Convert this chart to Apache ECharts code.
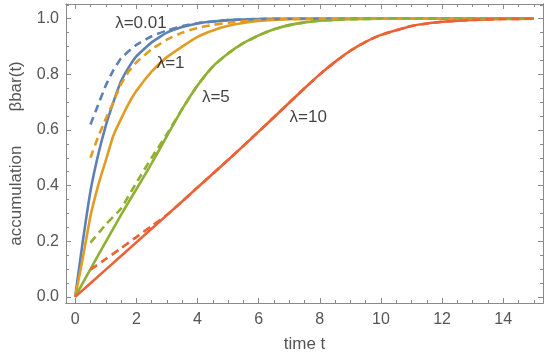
<!DOCTYPE html>
<html>
<head>
<meta charset="utf-8">
<script src="https://cdn.jsdelivr.net/npm/echarts@6/dist/echarts.min.js"></script>
<style>html,body{margin:0;padding:0;background:#fff}#c{width:550px;height:360px}</style>
</head>
<body>
<div id="c"></div>
<script>
// ---- data ----
const tBlueSolid = [0,0.25,0.5,0.75,1,1.25,1.5,1.75,2,2.5,3,3.5,4,4.5,5,6,7,8,10,12,15];
const yBlueSolid = [0,0.2,0.38,0.51,0.615,0.70,0.775,0.825,0.865,0.915,0.95,0.97,0.983,0.99,0.995,0.999,1,1,1,1,1];

const tOrangeSolid = [0,0.25,0.5,0.75,1,1.25,1.5,1.75,2,2.5,3,3.5,4,4.5,5,5.5,6,7,8,10,12,15];
const yOrangeSolid = [0,0.14,0.29,0.40,0.49,0.58,0.64,0.695,0.74,0.81,0.862,0.90,0.935,0.958,0.975,0.985,0.992,0.998,1,1,1,1];

const tGreenSolid = [0,0.5,1,1.5,2,2.5,3,3.5,4,4.5,5,5.5,6,6.5,7,7.5,8,9,10,12,15];
const yGreenSolid = [0,0.1,0.198,0.295,0.387,0.48,0.578,0.675,0.76,0.828,0.875,0.912,0.94,0.962,0.977,0.987,0.993,0.998,1,1,1];

const tRedSolid = [0,1,2,3,4,5,6,6.5,7,7.5,8,8.5,9,9.5,10,11,12,13,14,15];
const yRedSolid = [0,0.098,0.196,0.294,0.393,0.492,0.594,0.646,0.698,0.75,0.80,0.845,0.885,0.917,0.942,0.974,0.989,0.996,0.999,1];

const tBlueDash = [0.5,0.75,1,1.25,1.5,2,2.5,3,3.5,4,5,6,7,8,10,12,15];
const yBlueDash = [0.62,0.69,0.76,0.815,0.858,0.906,0.937,0.958,0.973,0.984,0.995,0.999,1,1,1,1,1];

const tOrangeDash = [0.5,0.75,1,1.25,1.5,1.75,2,2.5,3,3.5,4,4.5,5,6,7,8,10,12,15];
const yOrangeDash = [0.5,0.575,0.64,0.70,0.765,0.81,0.843,0.89,0.925,0.95,0.967,0.978,0.986,0.995,0.999,1,1,1,1];

const tGreenDash = [0.5,1,1.5,2,2.5,3,3.5,4,4.5,5,5.5,6,6.5,7,7.5,8,9,10,12,15];
const yGreenDash = [0.195,0.26,0.318,0.41,0.50,0.585,0.676,0.76,0.828,0.875,0.912,0.94,0.962,0.977,0.987,0.993,0.998,1,1,1];

const tRedDash = [0.5,1,1.5,2,2.5,3,3.5,4,5,6,6.5,7,7.5,8,8.5,9,9.5,10,11,12,13,14,15];
const yRedDash = [0.098,0.136,0.175,0.215,0.255,0.295,0.343,0.393,0.492,0.594,0.646,0.698,0.75,0.80,0.845,0.885,0.917,0.942,0.974,0.989,0.996,0.999,1];

const seriesNames = ['λ=0.01','λ=1','λ=5','λ=10'];
const labelT = [2.15, 3.12, 4.6, 7.62];
const labelY = [0.982, 0.841, 0.716, 0.644];

const xMajorTicks = [0,2,4,6,8,10,12,14];
const xMinorTicks = [0.5,1,1.5,2.5,3,3.5,4.5,5,5.5,6.5,7,7.5,8.5,9,9.5,10.5,11,11.5,12.5,13,13.5,14.5,15];
const yMajorTicks = [0,0.2,0.4,0.6,0.8,1.0];
const yMinorTicks = [0.05,0.1,0.15,0.25,0.3,0.35,0.45,0.5,0.55,0.65,0.7,0.75,0.85,0.9,0.95,1.05];

const xTitle = 'time t';
const yTitle = 'accumulation\u2003\u2003βbar(t)';

// ---- styles ----
const colors = ['#5E81B5','#E19C24','#8FB032','#EB6235'];
const axisColor = '#8a8a8a';
const labelColor = '#555';
const FONT = '"Liberation Sans", Arial, sans-serif';
const X_MIN = -0.3, X_MAX = 15.3, Y_MIN = -0.022, Y_MAX = 1.053;

function pairs(ts, ys){ return ts.map((t,i)=>[t, ys[i]]); }

function xAx(pos, major, showLabel){
  return {
    type:'value', position:pos, min:X_MIN, max:X_MAX,
    axisLine:{show:true, onZero:false, lineStyle:{color:axisColor, width:1}},
    axisTick:{show:true, inside:true, length: major?5:3, customValues: major?xMajorTicks:xMinorTicks, lineStyle:{color:axisColor}},
    axisLabel:{show:showLabel, customValues:xMajorTicks, color:labelColor, fontSize:16, fontFamily:FONT, margin:9,
      formatter:v=>String(v)},
    splitLine:{show:false},
    name: showLabel?xTitle:'', nameLocation:'middle', nameGap:33,
    nameTextStyle:{color:labelColor, fontSize:17, fontFamily:FONT}
  };
}
function yAx(pos, major, showLabel){
  return {
    type:'value', position:pos, min:Y_MIN, max:Y_MAX,
    axisLine:{show:true, onZero:false, lineStyle:{color:axisColor, width:1}},
    axisTick:{show:true, inside:true, length: major?5:3, customValues: major?yMajorTicks:yMinorTicks, lineStyle:{color:axisColor}},
    axisLabel:{show:showLabel, customValues:yMajorTicks, color:labelColor, fontSize:16, fontFamily:FONT, margin:7,
      formatter:v=>v.toFixed(1)},
    splitLine:{show:false},
    name: showLabel?yTitle:'', nameLocation:'middle', nameGap:41, nameRotate:90,
    nameTextStyle:{color:labelColor, fontSize:17, fontFamily:FONT}
  };
}

const solids = [[tBlueSolid,yBlueSolid],[tOrangeSolid,yOrangeSolid],[tGreenSolid,yGreenSolid],[tRedSolid,yRedSolid]];
const dashes = [[tBlueDash,yBlueDash],[tOrangeDash,yOrangeDash],[tGreenDash,yGreenDash],[tRedDash,yRedDash]];

const series = [];
solids.forEach((s,i)=>series.push({
  type:'line', name:seriesNames[i], data:pairs(s[0],s[1]), showSymbol:false, smooth:0.15,
  lineStyle:{color:colors[i], width:2.6}, xAxisIndex:0, yAxisIndex:0, z:2, silent:true
}));
dashes.forEach((s,i)=>series.push({
  type:'line', name:seriesNames[i]+' approx', data:pairs(s[0],s[1]), showSymbol:false, smooth:0.15,
  lineStyle:{color:colors[i], width:2.6, type:[8,5]}, xAxisIndex:0, yAxisIndex:0, z:3, silent:true
}));
series.push({
  type:'scatter', symbolSize:0, xAxisIndex:0, yAxisIndex:0, silent:true, z:5,
  data: seriesNames.map((n,i)=>[labelT[i], labelY[i], n]),
  label:{show:true, position:'inside', formatter:p=>p.data[2], color:'#111', fontSize:17, fontFamily:FONT}
});

const chart = echarts.init(document.getElementById('c'), null, {renderer:'canvas'});
chart.setOption({
  animation:false,
  backgroundColor:'#fff',
  grid:{left:62, right:7, top:4, bottom:57, containLabel:false},
  xAxis:[xAx('bottom',true,true), xAx('bottom',false,false), xAx('top',true,false), xAx('top',false,false)],
  yAxis:[yAx('left',true,true), yAx('left',false,false), yAx('right',true,false), yAx('right',false,false)],
  series: series
});
</script>
</body>
</html>
